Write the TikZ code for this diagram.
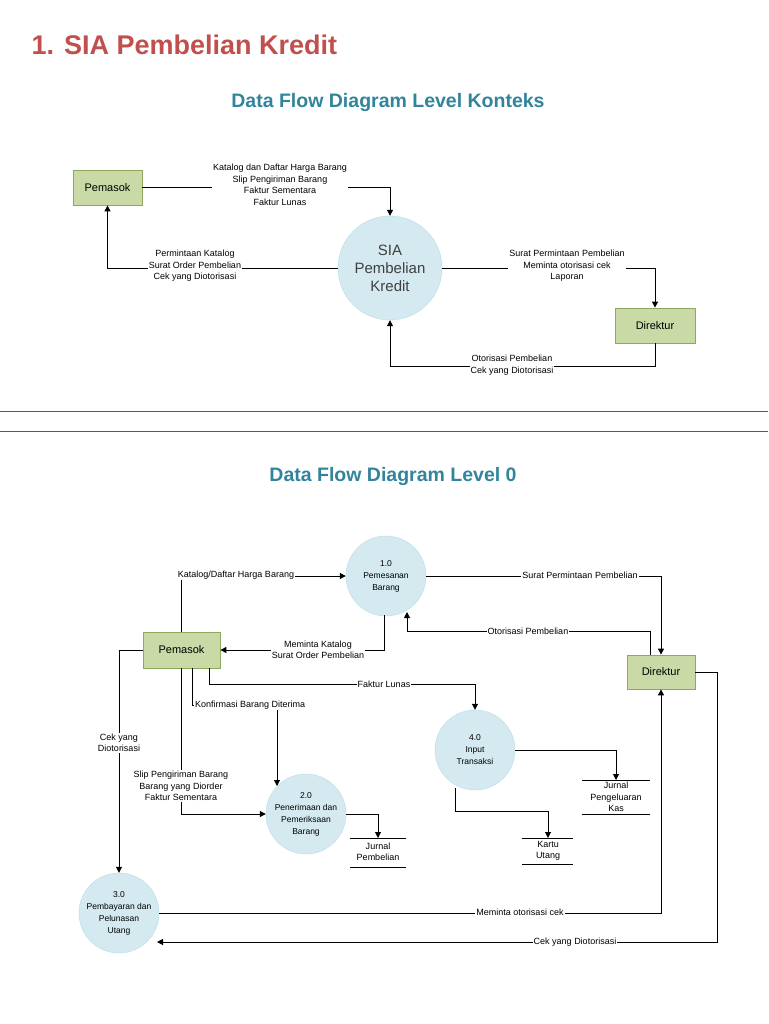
\documentclass[tikz,border=0pt]{standalone}
\usepackage{fontspec}
\setmainfont{Liberation Sans}
\usetikzlibrary{arrows.meta}
\definecolor{tred}{HTML}{C0504D}
\definecolor{tteal}{HTML}{31849B}
\definecolor{cfill}{HTML}{D4EAF0}
\definecolor{cline}{HTML}{B7DBE5}
\definecolor{bfill}{HTML}{C9DAA6}
\definecolor{bline}{HTML}{8FA85E}
\begin{document}
\begin{tikzpicture}[x=1pt,y=-1pt,
 proc/.style={circle,fill=cfill,draw=cline,align=center,inner sep=0pt},
 ent/.style={rectangle,fill=bfill,draw=bline,line width=0.8pt,font=\fontsize{11}{13}\selectfont},
 lab/.style={fill=white,inner sep=1pt,align=center,font=\fontsize{9}{11.5}\selectfont},
 arr/.style={draw=black,line width=1pt,-{Triangle[length=6pt,width=6pt]}},
 ln/.style={draw=black,line width=1pt},
 st/.style={align=center,font=\fontsize{9}{11.5}\selectfont,inner sep=0pt}]
\useasboundingbox (0,0) rectangle (768,1024);
% titles
\node[anchor=west,text=tred,font=\fontsize{27}{30}\selectfont\bfseries] (t1) at (28,45) {1. SIA Pembelian Kredit};
\node[text=tteal,font=\fontsize{19.5}{22}\selectfont\bfseries] (t2) at (388,103) {Data Flow Diagram Level Konteks};
\node[text=tteal,font=\fontsize{19.5}{22}\selectfont\bfseries] (t3) at (393,476) {Data Flow Diagram Level 0};
\coordinate (s1a) at (0,411); \coordinate (s1b) at (768,411);
\coordinate (s2a) at (0,431); \coordinate (s2b) at (768,431);
\draw[gray!70!black,line width=0.8pt] (s1a) -- (s1b) (s2a) -- (s2b);
% context
\node[ent,minimum width=69,minimum height=35] (cpem) at (107.5,187.5) {Pemasok};
\node[ent,minimum width=80,minimum height=35] (cdir) at (655,325.5) {Direktur};
\node[proc,minimum size=104,font=\fontsize{15}{18}\selectfont,text=black!75] (csia) at (390,268) {SIA\\Pembelian\\Kredit};
\draw[arr] (cpem.east) -| (csia.north);
\node[lab] (l1) at (280,185) {Katalog dan Daftar Harga Barang\\Slip Pengiriman Barang\\Faktur Sementara\\Faktur Lunas};
\draw[arr] (csia.west) -| (cpem.south);
\node[lab] (l2) at (195,266) {Permintaan Katalog\\Surat Order Pembelian\\Cek yang Diotorisasi};
\draw[arr] (csia.east) -| (cdir.north);
\node[lab] (l3) at (567,266) {Surat Permintaan Pembelian\\Meminta otorisasi cek\\Laporan};
\coordinate (c1) at (655,366);
\draw[arr] (cdir.south) -- (c1) -| (csia.south);
\node[lab] (l4) at (512,365) {Otorisasi Pembelian\\Cek yang Diotorisasi};
% level 0
\node[ent,minimum width=77,minimum height=36] (pem) at (181.5,650) {Pemasok};
\node[ent,minimum width=68,minimum height=34] (dir) at (661,672) {Direktur};
\node[proc,minimum size=80,font=\fontsize{8.5}{12}\selectfont] (p1) at (386,576) {1.0\\Pemesanan\\Barang};
\node[proc,minimum size=80,font=\fontsize{8.5}{12}\selectfont] (p2) at (306,814) {2.0\\Penerimaan dan\\Pemeriksaan\\Barang};
\node[proc,minimum size=80,font=\fontsize{8.5}{12}\selectfont] (p3) at (119,913) {3.0\\Pembayaran dan\\Pelunasan\\Utang};
\node[proc,minimum size=80,font=\fontsize{8.5}{12}\selectfont] (p4) at (475,750) {4.0\\Input\\Transaksi};
% stores
\node[st] (jp) at (378,852) {Jurnal\\Pembelian};
\coordinate (jpa) at (350,838); \coordinate (jpb) at (406,838);
\coordinate (jpc) at (350,867); \coordinate (jpd) at (406,867);
\node[st] (jk) at (616,797) {Jurnal\\Pengeluaran\\Kas};
\coordinate (jka) at (582,780); \coordinate (jkb) at (650,780);
\coordinate (jkc) at (582,814); \coordinate (jkd) at (650,814);
\node[st] (ku) at (548,851) {Kartu\\Utang};
\coordinate (kua) at (522,838); \coordinate (kub) at (573,838);
\coordinate (kuc) at (522,864); \coordinate (kud) at (573,864);
\draw[ln] (jpa)--(jpb) (jpc)--(jpd) (jka)--(jkb) (jkc)--(jkd) (kua)--(kub) (kuc)--(kud);
% flows
\draw[arr] (pem.north) |- (p1.west);
\node[lab] (f1) at (236,575) {Katalog/Daftar Harga Barang};
\coordinate (a1) at (384,615); \coordinate (a2) at (384,650);
\draw[arr] (a1) -- (a2) -- (pem.east);
\node[lab] (f2) at (318,650) {Meminta Katalog\\Surat Order Pembelian};
\draw[arr] (p1.east) -| (dir.north);
\node[lab] (f3) at (580,575) {Surat Permintaan Pembelian};
\coordinate (b1) at (650,655); \coordinate (b2) at (650,631); \coordinate (b3) at (407,631); \coordinate (b4) at (407,612);
\draw[arr] (b1) -- (b2) -- (b3) -- (b4);
\node[lab] (f4) at (528,631) {Otorisasi Pembelian};
\coordinate (d1) at (209,668); \coordinate (d2) at (209,684);
\draw[arr] (d1) -- (d2) -| (p4.north);
\node[lab] (f5) at (384,684) {Faktur Lunas};
\coordinate (e1) at (192,668); \coordinate (e2) at (192,705); \coordinate (e3) at (277,705); \coordinate (e4) at (277,786);
\draw[arr] (e1) -- (e2) -- (e3) -- (e4);
\node[lab,anchor=west] (f6) at (194,705) {Konfirmasi Barang Diterima};
\coordinate (g1) at (181,668);
\draw[arr] (g1) |- (p2.west);
\node[lab] (f7) at (181,786) {Slip Pengiriman Barang\\Barang yang Diorder\\Faktur Sementara};
\draw[arr] (pem.west) -| (p3.north);
\node[lab] (f8) at (119,743) {Cek yang\\Diotorisasi};
\coordinate (h1) at (378,814);
\draw[arr] (p2.east) -- (h1) -- (jpa -| h1);
\coordinate (i1) at (616,750);
\draw[arr] (p4.east) -- (i1) -- (jka -| i1);
\coordinate (k1) at (455,788); \coordinate (k2) at (455,811); \coordinate (k3) at (548,811);
\draw[arr] (k1) -- (k2) -- (k3) -- (kua -| k3);
\draw[arr] (p3.east) -| (dir.south);
\node[lab] (f9) at (520,912) {Meminta otorisasi cek};
\coordinate (m1) at (717,672); \coordinate (m2) at (717,942); \coordinate (m3) at (157,942);
\draw[arr] (dir.east) -- (m1) -- (m2) -- (m3);
\node[lab] (f10) at (575,942) {Cek yang Diotorisasi};
\end{tikzpicture}
\end{document}
